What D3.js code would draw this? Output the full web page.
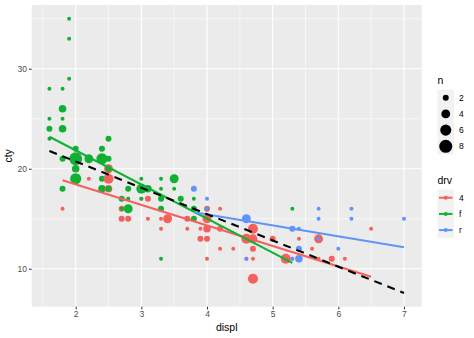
<!DOCTYPE html>
<html><head><meta charset="utf-8">
<script src="https://cdn.jsdelivr.net/npm/d3@7"></script>
<style>
html,body{margin:0;padding:0;background:#fff;}
svg{display:block;font-family:"Liberation Sans",Arial,Helvetica,sans-serif;}
</style></head>
<body>
<script>
// ---- Data (counts of cars at each displ / cty / drv combination) ----
const ptDispl = [
 1.8,1.8, 2.0,2.0, 2.2,2.2, 2.5,2.5,2.5, 2.7,2.7,2.7, 2.8,2.8, 3.0, 3.1,3.1, 3.3,3.3, 3.4, 3.7,3.7, 3.9,3.9,
 4.0,4.0,4.0,4.0,4.0, 4.2,4.2,4.2, 4.4, 4.6,4.6, 4.7,4.7,4.7,4.7,4.7, 5.0, 5.2, 5.3,5.3, 5.4,5.4, 5.6, 5.7,5.7, 5.9, 6.1, 6.5,
 1.6,1.6,1.6,1.6, 1.8,1.8,1.8,1.8,1.8,1.8, 1.9,1.9,1.9, 2.0,2.0,2.0,2.0, 2.2, 2.4,2.4,2.4,2.4, 2.5,2.5,2.5,2.5,
 2.7,2.7, 2.8,2.8,2.8, 3.0,3.0,3.0, 3.1, 3.3,3.3,3.3,3.3,3.3, 3.5,3.5, 3.6, 3.8,3.8,3.8,3.8, 4.0, 5.3,
 3.8, 4.0,4.0, 4.6,4.6, 5.3,5.3, 5.4,5.4,5.4, 5.7,5.7,5.7, 6.0, 6.2,6.2, 7.0
];
const ptCty = [
 18,16, 20,19, 21,19, 18,20,19, 15,16,17, 15,17, 17, 17,15, 14,15, 15, 15,14, 13,14,
 14,15,13,11,16, 16,14,12, 12, 13,11, 14,9,13,12,11, 13, 11, 14,11, 11,13, 12, 11,13, 11, 11, 14,
 28,25,24,23, 28,26,25,24,21,18, 35,33,29, 22,21,20,19, 21, 22,21,19,18, 23,21,20,18,
 17,16, 18,17,16, 19,18,17, 18, 19,18,17,16,11, 19,18, 17, 18,17,16,15, 16, 16,
 18, 17,16, 15,11, 14,11, 14,12,11, 16,15,13, 12, 16,15, 15
];
const ptDrv = [
 "4","4","4","4","4","4","4","4","4","4","4","4","4","4","4","4","4","4","4","4","4","4","4","4",
 "4","4","4","4","4","4","4","4","4","4","4","4","4","4","4","4","4","4","4","4","4","4","4","4","4","4","4","4",
 "f","f","f","f","f","f","f","f","f","f","f","f","f","f","f","f","f","f","f","f","f","f","f","f","f","f",
 "f","f","f","f","f","f","f","f","f","f","f","f","f","f","f","f","f","f","f","f","f","f","f",
 "r","r","r","r","r","r","r","r","r","r","r","r","r","r","r","r","r"
];
const ptN = [
 1,1, 1,1, 1,1, 3,4,5, 2,2,1, 2,1, 1, 2,1, 1,1, 4, 2,1, 2,1,
 3,4,2,1,2, 1,2,1, 1, 5,1, 5,5,4,2,1, 2, 5, 1,1, 1,1, 1, 1,4, 2, 1, 1,
 1,1,2,1, 1,3,1,3,2,2, 1,1,1, 2,8,3,6, 4, 2,6,2,3, 2,2,2,2,
 2,1, 2,1,4, 1,5,1, 3, 1,1,2,2,1, 4,1, 2, 1,1,2,2, 1, 1,
 2, 1,1, 4,1, 2,1, 1,2,3, 1,1,1, 1, 1,1, 1
];
// linear smooth (lm) lines: group, x start/end, cty start/end
const smoothGroup = ["4","f","r"];
const smoothX0 = [1.8, 1.6, 3.8];
const smoothX1 = [6.5, 5.3, 7.0];
const smoothY0 = [18.85, 23.2, 15.65];
const smoothY1 = [9.2, 10.6, 12.15];
// overall dashed lm line
const allX = [1.6, 7.0];
const allY = [21.78, 7.58];

const drvLevels = ["4","f","r"];
const drvColors = ["#F4615C","#10B133","#5E95FA"];
const xBreaks = [2,3,4,5,6,7];
const yBreaks = [10,20,30];
const nBreaks = [2,4,6,8];

// ---- Build ----
const W = 474, H = 338;
const P = {l:31.7, r:421.7, t:5, b:306.7};
const svg = d3.select("body").append("svg").attr("width",W).attr("height",H);

let pts = ptDispl.map((d,i)=>({x:d, y:ptCty[i], drv:ptDrv[i], n:ptN[i]}));
pts = pts.sort((a,b)=> d3.ascending(a.x,b.x) || d3.ascending(a.y,b.y) || d3.ascending(a.drv,b.drv));

const xExt = d3.extent(ptDispl);
const yExt = d3.extent(ptCty.concat(smoothY0, smoothY1, allY));
const xPad = (xExt[1]-xExt[0])*0.05, yPad = (yExt[1]-yExt[0])*0.05;
const x = d3.scaleLinear().domain([xExt[0]-xPad, xExt[1]+xPad]).range([P.l, P.r]);
const y = d3.scaleLinear().domain([yExt[0]-yPad, yExt[1]+yPad]).range([P.b, P.t]);
const col = d3.scaleOrdinal().domain(drvLevels).range(drvColors);
const rad = d3.scaleSqrt().domain([2,8]).range([3,6.5]);

// panel
svg.append("rect").attr("x",P.l).attr("y",P.t).attr("width",P.r-P.l).attr("height",P.b-P.t).attr("fill","#EBEBEB");
function minors(br, dom){
  const step = br[1]-br[0]; const out=[];
  for(let v=br[0]-step/2; v<=dom[1]; v+=step){ if(v>=dom[0]) out.push(v); }
  return out;
}
const g = svg.append("g");
g.selectAll(".xmin").data(minors(xBreaks,x.domain())).join("line")
 .attr("x1",d=>x(d)).attr("x2",d=>x(d)).attr("y1",P.t).attr("y2",P.b).attr("stroke","#fff").attr("stroke-width",0.55);
g.selectAll(".ymin").data(minors(yBreaks,y.domain())).join("line")
 .attr("y1",d=>y(d)).attr("y2",d=>y(d)).attr("x1",P.l).attr("x2",P.r).attr("stroke","#fff").attr("stroke-width",0.55);
g.selectAll(".xmaj").data(xBreaks).join("line")
 .attr("x1",d=>x(d)).attr("x2",d=>x(d)).attr("y1",P.t).attr("y2",P.b).attr("stroke","#fff").attr("stroke-width",1.1);
g.selectAll(".ymaj").data(yBreaks).join("line")
 .attr("y1",d=>y(d)).attr("y2",d=>y(d)).attr("x1",P.l).attr("x2",P.r).attr("stroke","#fff").attr("stroke-width",1.1);

// points
svg.append("g").selectAll("circle").data(pts).join("circle")
 .attr("cx",d=>x(d.x)).attr("cy",d=>y(d.y)).attr("r",d=>rad(d.n)).attr("fill",d=>col(d.drv));

// smooth lines
const line = d3.line().x(d=>x(d[0])).y(d=>y(d[1]));
svg.append("g").selectAll("path").data(smoothGroup.map((gname,i)=>({g:gname, pts:[[smoothX0[i],smoothY0[i]],[smoothX1[i],smoothY1[i]]]})))
 .join("path").attr("d",d=>line(d.pts)).attr("stroke",d=>col(d.g)).attr("stroke-width",2).attr("fill","none");
svg.append("path").attr("d",line(allX.map((v,i)=>[v,allY[i]])))
 .attr("stroke","#000").attr("stroke-width",2.1).attr("fill","none").attr("stroke-dasharray","8,6");

// axes
const fmt = d3.format("d");
const xa = svg.append("g").attr("transform",`translate(0,${P.b})`)
 .call(d3.axisBottom(x).tickValues(xBreaks).tickFormat(fmt).tickSize(2.7).tickPadding(2));
const ya = svg.append("g").attr("transform",`translate(${P.l},0)`)
 .call(d3.axisLeft(y).tickValues(yBreaks).tickFormat(fmt).tickSize(2.7).tickPadding(2));
[xa,ya].forEach(a=>{
  a.select(".domain").remove();
  a.selectAll(".tick line").attr("stroke","#333333").attr("stroke-width",1);
  a.selectAll(".tick text").attr("fill","#4D4D4D").style("font-size","8.5px").style("font-family","'Liberation Sans',Arial,sans-serif");
});
svg.append("text").attr("x",(P.l+P.r)/2).attr("y",331).attr("text-anchor","middle")
 .style("font-size","10.5px").attr("fill","#000").text("displ");
svg.append("text").attr("transform",`translate(12,${(P.t+P.b)/2}) rotate(-90)`).attr("text-anchor","middle")
 .style("font-size","10.5px").attr("fill","#000").text("cty");

// legend: n
const lx = 437.5, kw = 16.5, kh = 16.2;
const ln = svg.append("g");
ln.append("text").attr("x",lx).attr("y",83.5).style("font-size","10.5px").text("n");
const nk = ln.selectAll("g").data(nBreaks).join("g").attr("transform",(d,i)=>`translate(${lx},${89.6+i*kh})`);
nk.append("rect").attr("width",kw).attr("height",kh).attr("fill","#F2F2F2");
nk.append("circle").attr("cx",kw/2).attr("cy",kh/2).attr("r",d=>rad(d)).attr("fill","#000");
nk.append("text").attr("x",kw+5).attr("y",kh/2+3).style("font-size","8.5px").attr("fill","#000").text(d=>d);

// legend: drv
const ld = svg.append("g");
ld.append("text").attr("x",lx).attr("y",183.5).style("font-size","10.5px").text("drv");
const dk = ld.selectAll("g").data(drvLevels).join("g").attr("transform",(d,i)=>`translate(${lx},${189.6+i*kh})`);
dk.append("rect").attr("width",kw).attr("height",kh).attr("fill","#F2F2F2");
dk.append("line").attr("x1",1.5).attr("x2",kw-1.5).attr("y1",kh/2).attr("y2",kh/2).attr("stroke",d=>col(d)).attr("stroke-width",2);
dk.append("circle").attr("cx",kw/2).attr("cy",kh/2).attr("r",2).attr("fill",d=>col(d));
dk.append("text").attr("x",kw+5).attr("y",kh/2+3).style("font-size","8.5px").attr("fill","#000").text(d=>d);
</script>
</body></html>
